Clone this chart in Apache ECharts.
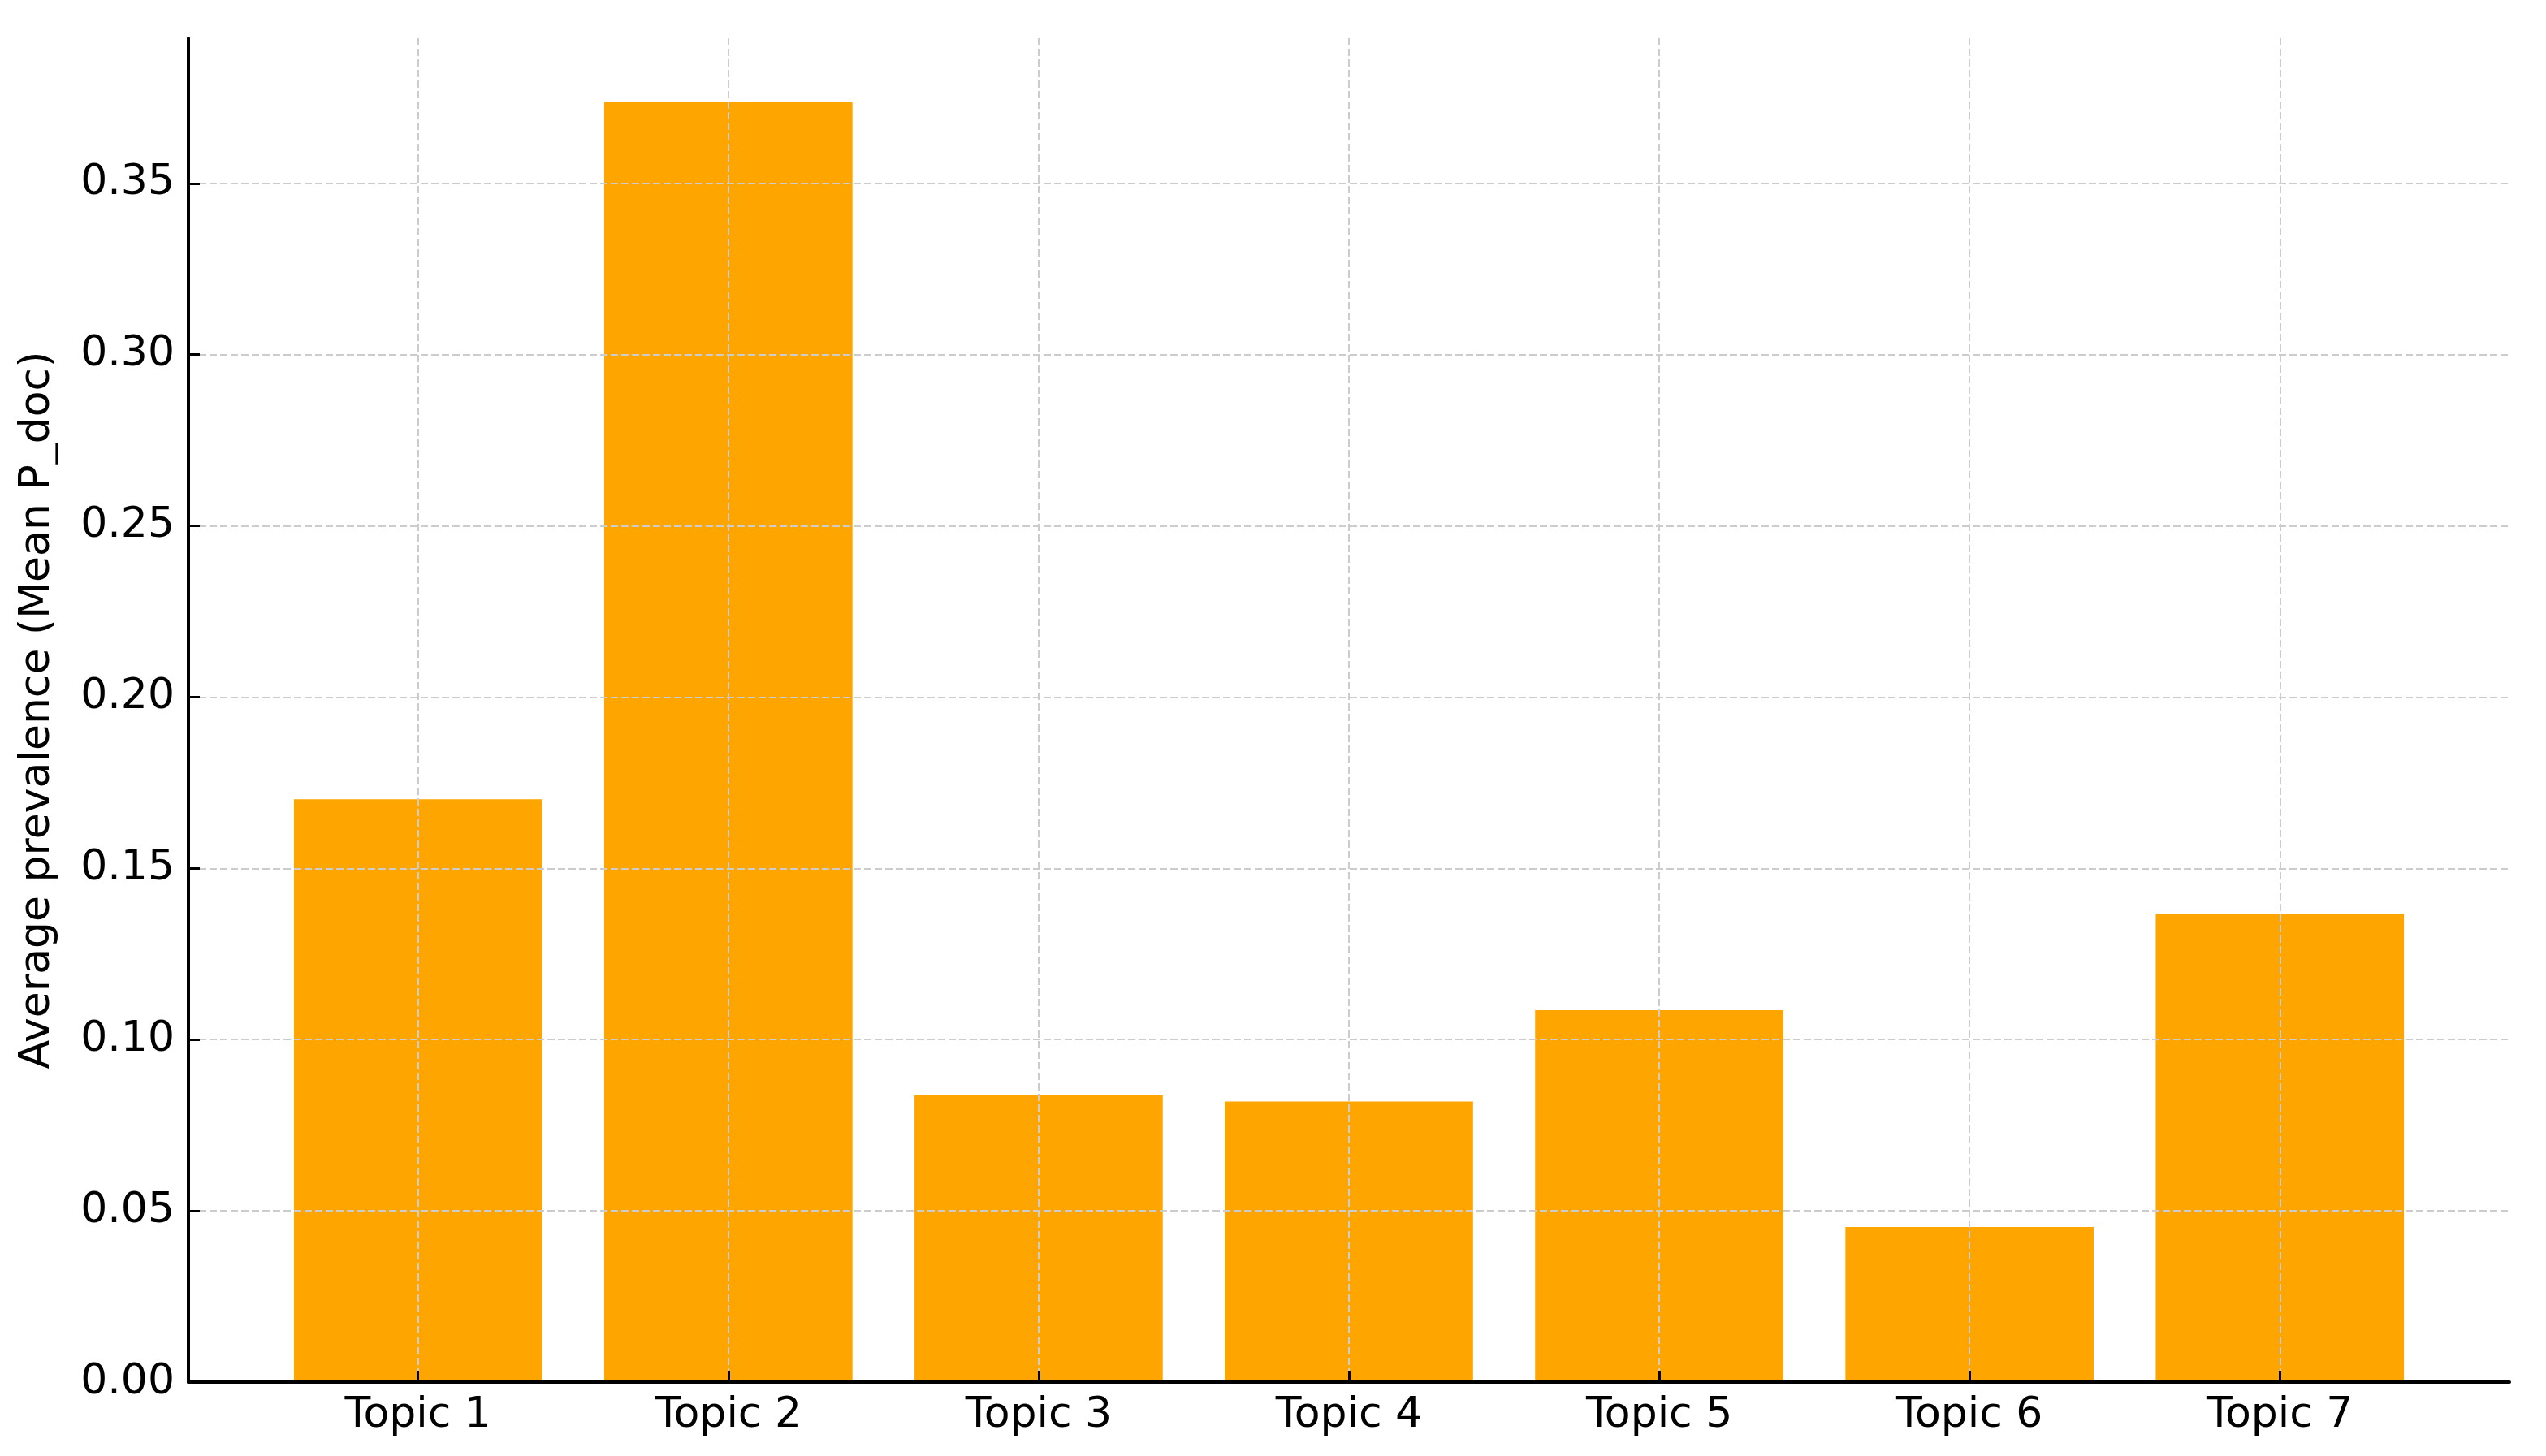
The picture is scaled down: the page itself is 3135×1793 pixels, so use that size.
<!DOCTYPE html>
<html>
<head>
<meta charset="utf-8">
<script src="https://cdn.jsdelivr.net/npm/echarts@6/dist/echarts.min.js"></script>
<style>
  html, body { margin: 0; padding: 0; background: #fff; }
  #chart { width: 3135px; height: 1793px; }
</style>
</head>
<body>
<div id="chart"></div>
<script>
// 数据
const topics = ['Topic 1', 'Topic 2', 'Topic 3', 'Topic 4', 'Topic 5', 'Topic 6', 'Topic 7']
const prevalence = [0.1702, 0.3737, 0.0837, 0.0819, 0.1086, 0.0453, 0.1367]
const yTicks = [0, 0.05, 0.1, 0.15, 0.2, 0.25, 0.3, 0.35]
const xTicks = [0, 1, 2, 3, 4, 5, 6]

const chart = echarts.init(document.getElementById('chart'))

const font = 'DejaVu Sans'
const gridLine = {
  show: true,
  lineStyle: { color: '#cccccc', width: 2, type: [9, 4] }
}

const option = {
  backgroundColor: '#ffffff',
  animation: false,
  grid: {
    left: 232,
    right: 45,
    top: 47,
    bottom: 91
  },
  xAxis: {
    type: 'value',
    // 和 matplotlib 一样留 5% 边距
    min: -0.74,
    max: 6.74,
    z: 3,
    axisLine: { show: true, onZero: false, lineStyle: { color: '#000', width: 4 } },
    axisTick: {
      show: true,
      inside: true,
      length: 14,
      customValues: xTicks,
      lineStyle: { color: '#000', width: 3 }
    },
    axisLabel: {
      customValues: xTicks,
      margin: 15,
      fontFamily: font,
      fontSize: 52,
      color: '#000',
      formatter: (v) => topics[v]
    },
    splitLine: gridLine
  },
  yAxis: {
    type: 'value',
    min: 0,
    max: 0.3924,
    z: 3,
    name: 'Average prevalence (Mean P_doc)',
    nameLocation: 'middle',
    nameGap: 160,
    nameTextStyle: { fontFamily: font, fontSize: 52, color: '#000' },
    axisLine: { show: true, onZero: false, lineStyle: { color: '#000', width: 4 } },
    axisTick: {
      show: true,
      inside: true,
      length: 14,
      customValues: yTicks,
      lineStyle: { color: '#000', width: 3 }
    },
    axisLabel: {
      customValues: yTicks,
      margin: 17,
      fontFamily: font,
      fontSize: 52,
      color: '#000',
      formatter: (v) => v.toFixed(2)
    },
    splitLine: gridLine
  },
  series: [
    {
      type: 'bar',
      data: prevalence.map((v, i) => [i, v]),
      barWidth: '80%',
      itemStyle: { color: '#FFA500' }
    }
  ]
}

chart.setOption(option)
</script>
</body>
</html>
